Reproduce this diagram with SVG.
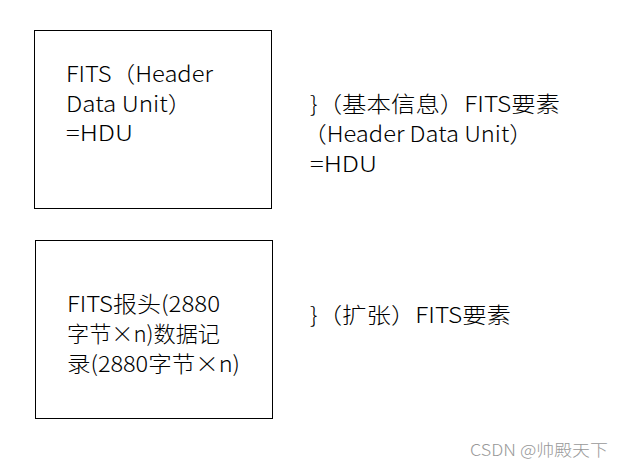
<svg xmlns="http://www.w3.org/2000/svg" width="623" height="467" viewBox="0 0 623 467">
<style>
.box{fill:#fff;stroke:#000;stroke-width:1}
.t{font-family:"Noto Sans CJK SC","Noto Sans",sans-serif;font-size:22px;font-weight:300;fill:#000}
.w{font-family:"Noto Sans CJK SC","Noto Sans",sans-serif;font-size:16px;font-weight:300;fill:#999}
</style>
<rect width="623" height="467" fill="#fff"/>
<g id="hdu">
<rect class="box" x="34.5" y="30.5" width="237" height="178"/>
<text class="t" x="66" y="82" textLength="147" lengthAdjust="spacingAndGlyphs">FITS（Header</text>
<text class="t" x="66" y="112" textLength="126" lengthAdjust="spacingAndGlyphs">Data Unit）</text>
<text class="t" x="66" y="141" textLength="67" lengthAdjust="spacingAndGlyphs">=HDU</text>
</g>
<g id="ext">
<rect class="box" x="35.5" y="240.5" width="237" height="178"/>
<text class="t" x="67" y="312" textLength="153" lengthAdjust="spacingAndGlyphs">FITS报头(2880</text>
<text class="t" x="67" y="342" textLength="153" lengthAdjust="spacingAndGlyphs">字节×n)数据记</text>
<text class="t" x="67" y="372" textLength="173" lengthAdjust="spacingAndGlyphs">录(2880字节×n)</text>
</g>
<g id="label1">
<text class="t" x="310" y="112" textLength="250" lengthAdjust="spacingAndGlyphs">}（基本信息）FITS要素</text>
<text class="t" x="303" y="142" textLength="230" lengthAdjust="spacingAndGlyphs">（Header Data Unit）</text>
<text class="t" x="310" y="172" textLength="67" lengthAdjust="spacingAndGlyphs">=HDU</text>
</g>
<g id="label2">
<text class="t" x="310" y="323" textLength="201" lengthAdjust="spacingAndGlyphs">}（扩张）FITS要素</text>
</g>
<g id="connectors"></g>
<text class="w" x="470" y="456" textLength="138" lengthAdjust="spacingAndGlyphs">CSDN @帅殿天下</text>
</svg>
